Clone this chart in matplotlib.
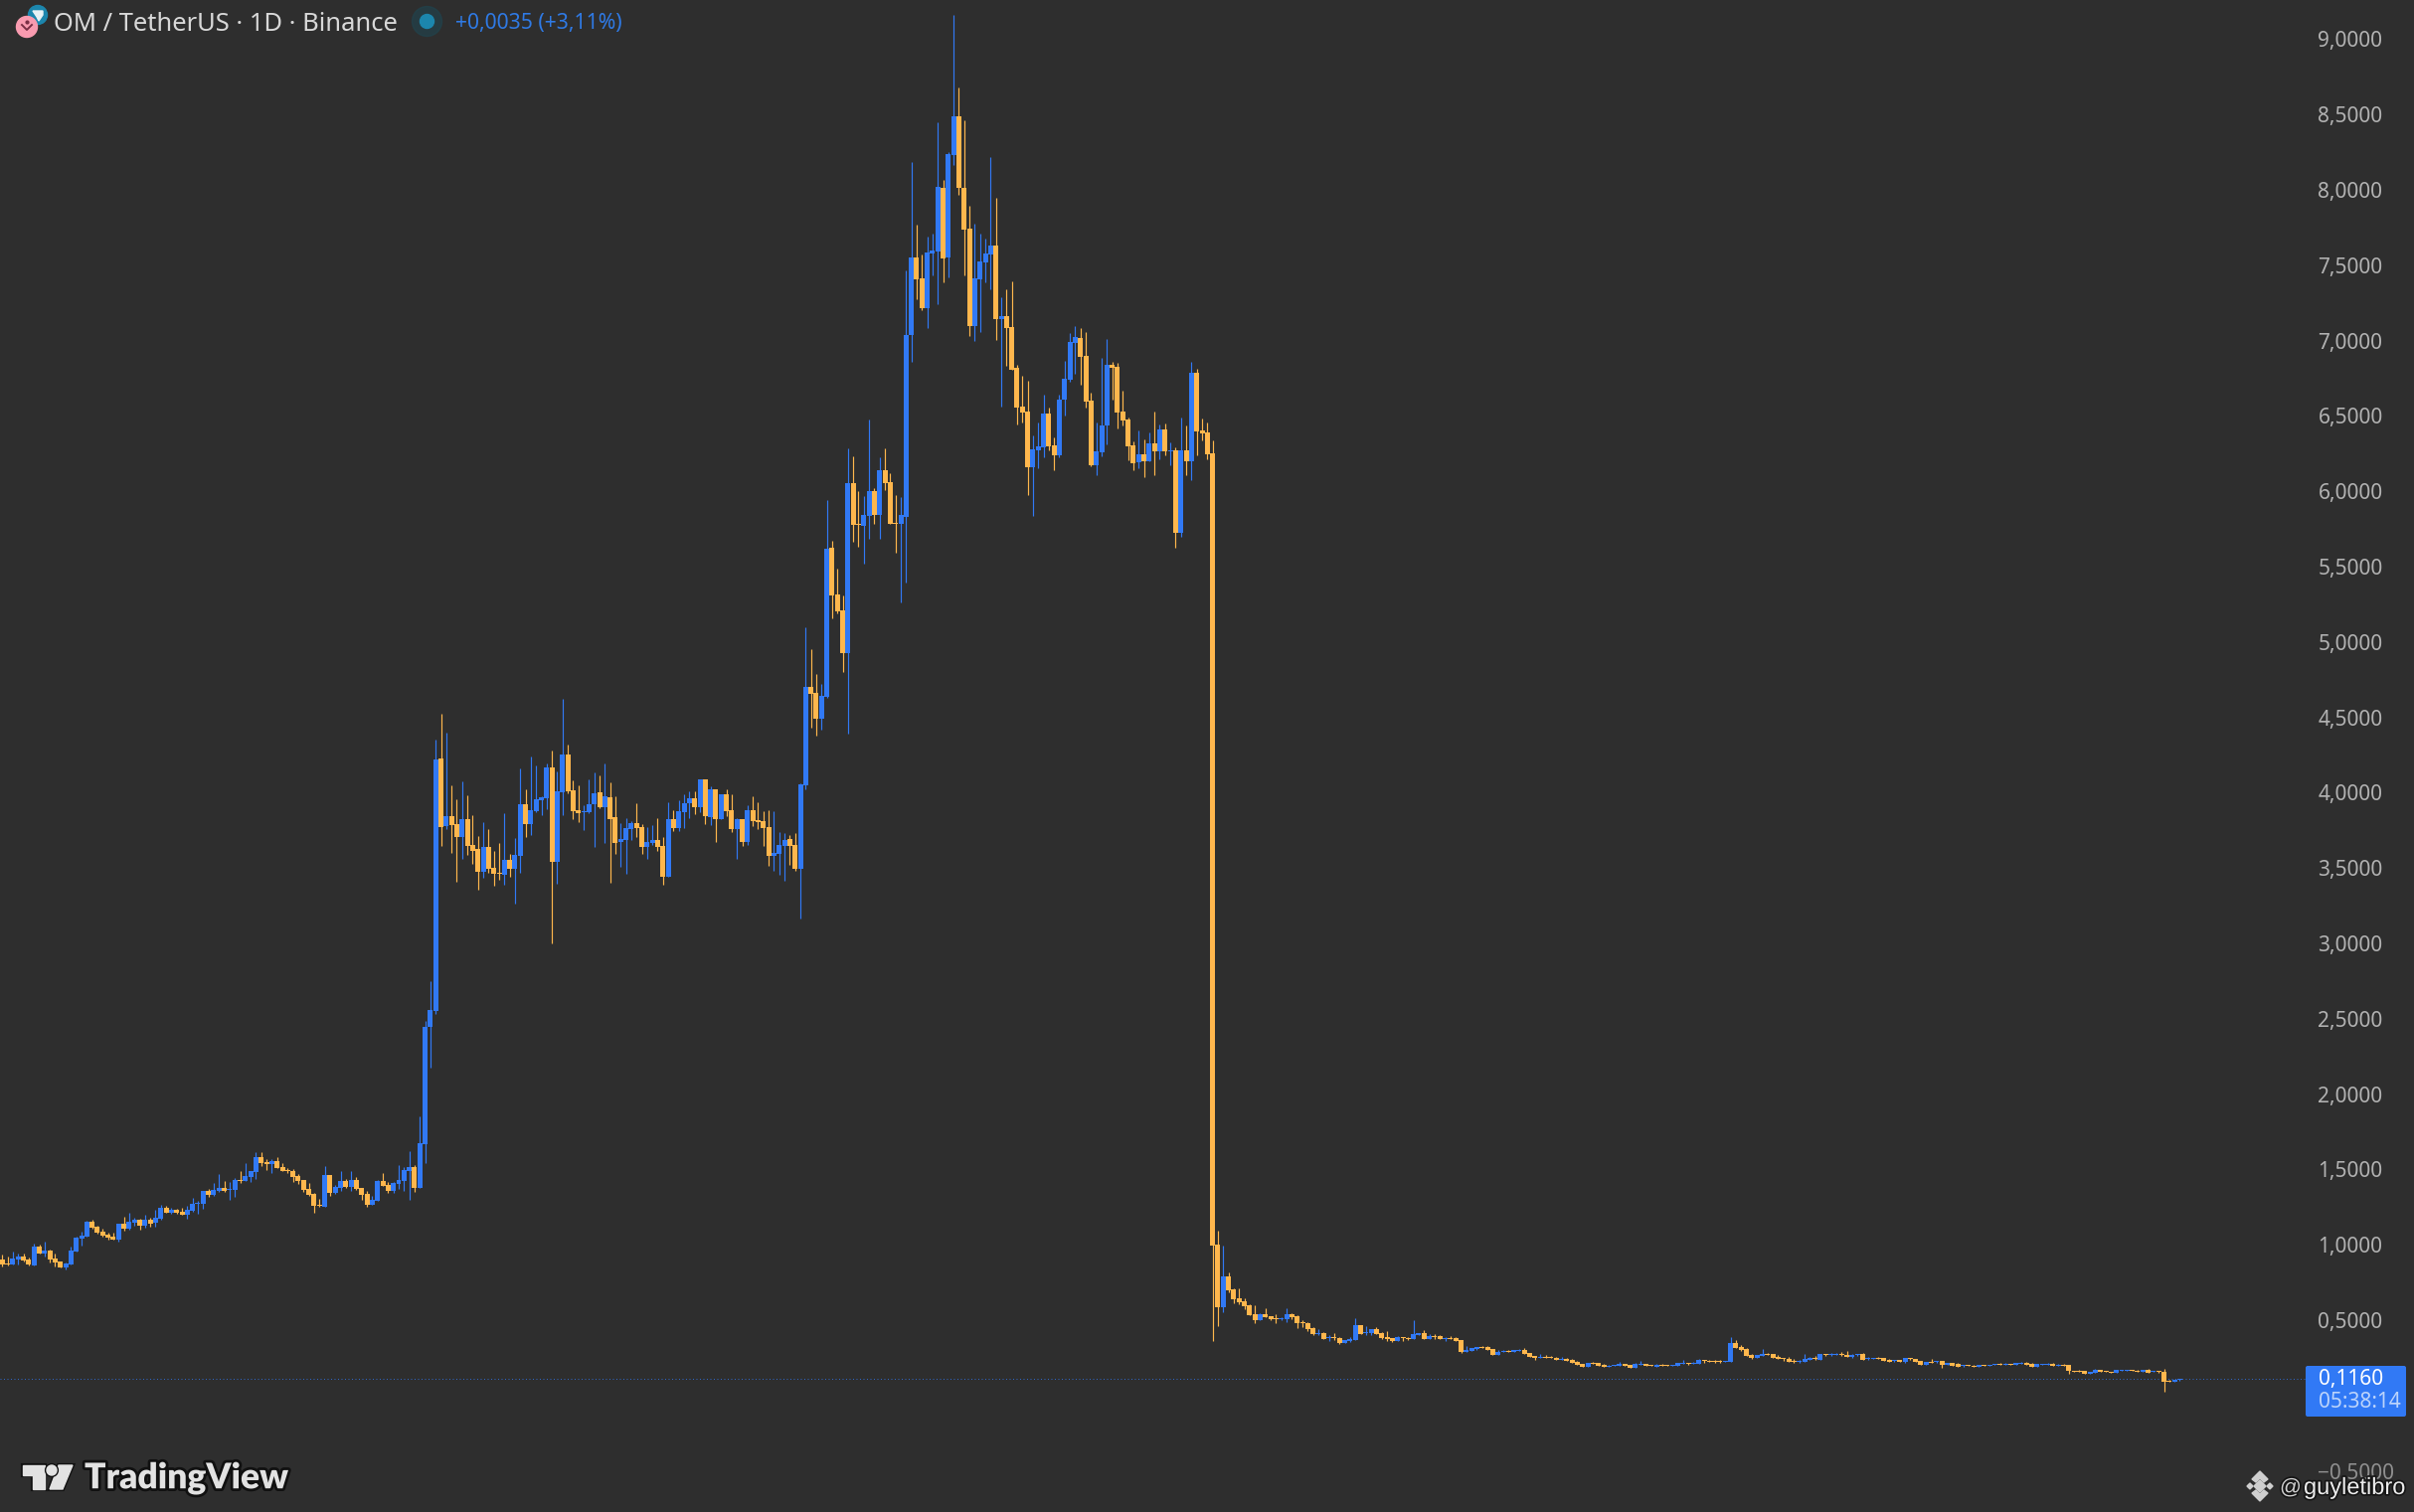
import matplotlib
matplotlib.use('Agg')
import matplotlib.pyplot as plt
import matplotlib.patheffects as pe
from matplotlib.patches import Circle, Polygon, FancyBboxPatch
from matplotlib.transforms import ScaledTranslation
import numpy as np

# Candle data, 10 candles per row; u = up, d = down
direction_rows = [
    "dduuddudud", "dduuuuuddd", "dduduududu", "ududduuuud", "uuduuduuud",
    "dudddddddd", "duduududdd", "uudduuuudu", "uuududdudd", "duddduduud",
    "uuuuduuddd", "uuududduuu", "dduuddudu" "u", "ududududdu", "dudddduuud",
    "duudduuddd", "udduududdd", "uuudduuudu", "uddduuuudu", "ddddduuudd",
    "uuuuddduuu", "dddddududu", "dudududddd", "duddddddud", "dduudddddu",
    "dudduuuduu", "ddddudduud", "uddudddu" "uu", "ddduuduudd", "dudddudddd",
    "uddduuuddu", "uddudduuud", "uuddddu" "udd", "dduudddddd", "uuududuudd",
    "uuduuddd" "ud", "udddududud", "dudduduudu", "duudduuudu", "ddddduuddd",
    "uuudduducd".replace("c", "d"), "duu",
]
directions = "".join(direction_rows)

body_tops = [
    .910, .883, .916, .930, .930, .910, .996, .996, .969, .969,
    .916, .897, .883, .969, 1.055, 1.068, 1.160, 1.160, 1.127, 1.095,
    1.075, 1.062, 1.147, 1.147, 1.160, 1.174, 1.174, 1.174, 1.174, 1.187,
    1.253, 1.253, 1.240, 1.240, 1.227, 1.240, 1.279, 1.286, 1.365, 1.365,
    1.372, 1.385, 1.385, 1.378, 1.438, 1.438, 1.464, 1.497, 1.590, 1.590,
    1.556, 1.563, 1.563, 1.524, 1.504, 1.497, 1.464, 1.438, 1.378, 1.345,
    1.273, 1.471, 1.471, 1.392, 1.431, 1.431, 1.438, 1.438, 1.385, 1.345,
    1.306, 1.431, 1.431, 1.405, 1.418, 1.438, 1.504, 1.524, 1.524, 1.682,
    2.452, 2.564, 4.228, 4.234, 3.851, 3.851, 3.799, 3.832, 3.832, 3.660,
    3.634, 3.647, 3.647, 3.508, 3.475, 3.561, 3.561, 3.594, 3.931, 3.931,
    3.891, 3.964, 3.977, 4.175, 4.175, 4.016, 4.261, 4.261, 4.023, 3.891,
    3.884, 3.931, 4.003, 4.010, 3.983, 3.977, 3.845, 3.700, 3.772, 3.805,
    3.805, 3.779, 3.680, 3.693, 3.693, 3.653, 3.832, 3.832, 3.884, 3.937,
    3.970, 3.970, 4.096, 4.096, 4.030, 4.030, 3.997, 3.997, 3.891, 3.832,
    3.832, 3.891, 3.891, 3.825, 3.818, 3.779, 3.607, 3.660, 3.693, 3.700,
    3.660, 4.063, 4.708, 4.708, 4.669, 4.649, 5.626, 5.632, 5.322, 5.217,
    6.061, 6.061, 5.791, 5.850, 6.009, 6.009, 6.147, 6.147, 6.068, 5.797,
    5.850, 7.044, 7.560, 7.560, 7.421, 7.593, 7.605, 8.029, 8.022, 8.245,
    8.495, 8.495, 8.022, 7.751, 7.421, 7.534, 7.586, 7.638, 7.638, 7.171,
    7.171, 7.098, 6.827, 6.570, 6.537, 6.285, 6.306, 6.523, 6.523, 6.314,
    6.615, 6.754, 6.999, 7.032, 7.025, 6.907, 6.610, 6.274, 6.446, 6.846,
    6.846, 6.834, 6.537, 6.483, 6.314, 6.252, 6.252, 6.325, 6.325, 6.417,
    6.417, 6.281, 6.281, 6.281, 6.281, 6.794, 6.794, 6.412, 6.398, 6.259,
    1.009, .798, .798, .712, .652, .633, .606, .547, .547, .547,
    .534, .520, .520, .547, .547, .534, .494, .487, .454, .421,
    .421, .395, .395, .388, .375, .382, .474, .474, .428, .448,
    .448, .421, .395, .388, .395, .395, .388, .415, .421, .421,
    .402, .402, .402, .388, .388, .388, .375, .309, .322, .329,
    .329, .329, .316, .296, .303, .303, .309, .309, .309, .289,
    .270, .263, .263, .263, .256, .250, .250, .243, .230, .217,
    .223, .223, .223, .210, .204, .210, .217, .217, .210, .217,
    .217, .217, .210, .210, .210, .210, .210, .223, .223, .223,
    .223, .243, .243, .237, .237, .237, .237, .356, .356, .330,
    .317, .277, .277, .284, .284, .284, .264, .257, .250, .237,
    .237, .250, .257, .257, .284, .284, .284, .284, .284, .277,
    .277, .284, .284, .257, .257, .257, .257, .244, .244, .244,
    .257, .257, .250, .237, .231, .231, .237, .237, .224, .224,
    .218, .211, .211, .204, .211, .211, .211, .218, .218, .218,
    .218, .224, .224, .224, .218, .218, .218, .218, .218, .211,
    .211, .211, .171, .171, .171, .165, .178, .178, .171, .165,
    .178, .178, .178, .178, .171, .178, .178, .171, .171, .165,
    .105, .112, .118,
]

body_bottoms = [
    .877, .877, .877, .910, .903, .877, .870, .949, .949, .910,
    .890, .857, .857, .877, .963, 1.048, 1.062, 1.121, 1.088, 1.068,
    1.055, 1.042, 1.042, 1.114, 1.114, 1.154, 1.134, 1.134, 1.147, 1.154,
    1.180, 1.220, 1.220, 1.220, 1.207, 1.207, 1.233, 1.279, 1.279, 1.339,
    1.339, 1.365, 1.365, 1.372, 1.372, 1.431, 1.431, 1.458, 1.490, 1.550,
    1.543, 1.543, 1.517, 1.497, 1.497, 1.458, 1.431, 1.372, 1.339, 1.266,
    1.266, 1.260, 1.352, 1.352, 1.385, 1.392, 1.392, 1.378, 1.339, 1.273,
    1.273, 1.299, 1.398, 1.365, 1.365, 1.411, 1.431, 1.497, 1.385, 1.385,
    1.673, 2.452, 2.558, 3.779, 3.785, 3.792, 3.713, 3.713, 3.653, 3.620,
    3.482, 3.482, 3.502, 3.469, 3.469, 3.462, 3.502, 3.502, 3.587, 3.799,
    3.799, 3.884, 3.957, 3.970, 3.548, 3.548, 4.010, 4.016, 3.884, 3.871,
    3.878, 3.878, 3.931, 3.911, 3.911, 3.832, 3.673, 3.680, 3.693, 3.766,
    3.772, 3.647, 3.647, 3.673, 3.647, 3.449, 3.449, 3.772, 3.772, 3.878,
    3.937, 3.911, 3.911, 3.851, 3.845, 3.832, 3.832, 3.884, 3.766, 3.766,
    3.680, 3.680, 3.818, 3.812, 3.772, 3.587, 3.587, 3.601, 3.653, 3.653,
    3.502, 3.502, 4.056, 4.662, 4.497, 4.497, 4.642, 5.316, 5.210, 4.933,
    4.933, 5.784, 5.784, 5.778, 5.844, 5.850, 5.850, 6.061, 5.791, 5.791,
    5.791, 5.837, 7.042, 7.416, 7.225, 7.225, 7.586, 7.600, 7.553, 7.560,
    8.241, 8.022, 7.744, 7.105, 7.105, 7.414, 7.527, 7.579, 7.150, 7.150,
    7.093, 6.813, 6.563, 6.530, 6.167, 6.167, 6.281, 6.299, 6.306, 6.248,
    6.248, 6.615, 6.747, 6.992, 6.900, 6.603, 6.182, 6.182, 6.266, 6.446,
    6.827, 6.530, 6.479, 6.306, 6.193, 6.200, 6.208, 6.208, 6.274, 6.274,
    6.274, 6.274, 5.732, 5.732, 6.208, 6.208, 6.405, 6.391, 6.252, 1.002,
    .593, .593, .705, .646, .626, .600, .540, .507, .507, .527,
    .514, .514, .514, .514, .527, .487, .487, .448, .415, .415,
    .382, .388, .388, .355, .355, .369, .375, .415, .421, .421,
    .415, .388, .382, .369, .369, .388, .382, .382, .408, .382,
    .382, .395, .382, .384, .382, .369, .296, .296, .303, .316,
    .322, .309, .276, .276, .296, .296, .296, .303, .283, .263,
    .256, .256, .256, .256, .243, .243, .237, .223, .210, .197,
    .197, .217, .204, .197, .197, .204, .204, .204, .190, .190,
    .210, .204, .204, .197, .204, .204, .204, .204, .217, .217,
    .217, .217, .237, .230, .230, .231, .231, .231, .323, .310,
    .270, .257, .257, .270, .277, .257, .250, .250, .231, .231,
    .231, .231, .244, .250, .244, .277, .277, .277, .277, .264,
    .264, .277, .244, .250, .250, .250, .237, .231, .237, .231,
    .231, .250, .231, .211, .211, .224, .231, .211, .211, .204,
    .198, .204, .204, .198, .198, .204, .204, .211, .211, .211,
    .211, .211, .218, .211, .198, .198, .211, .211, .204, .204,
    .204, .171, .165, .165, .151, .151, .158, .165, .165, .158,
    .158, .171, .171, .171, .165, .165, .158, .165, .165, .099,
    .099, .099, .112,
]

wick_highs = [
    .943, .930, .963, .949, .949, .923, 1.015, 1.009, 1.029, .976,
    .949, .897, .890, .996, 1.062, 1.095, 1.167, 1.174, 1.134, 1.114,
    1.088, 1.088, 1.147, 1.194, 1.220, 1.187, 1.180, 1.207, 1.187, 1.240,
    1.273, 1.266, 1.253, 1.246, 1.253, 1.266, 1.319, 1.299, 1.365, 1.378,
    1.418, 1.477, 1.431, 1.425, 1.451, 1.497, 1.550, 1.497, 1.623, 1.623,
    1.576, 1.576, 1.590, 1.550, 1.517, 1.510, 1.477, 1.438, 1.418, 1.352,
    1.312, 1.530, 1.471, 1.405, 1.497, 1.444, 1.497, 1.458, 1.385, 1.365,
    1.332, 1.438, 1.484, 1.425, 1.425, 1.537, 1.524, 1.629, 1.537, 1.860,
    2.492, 2.756, 4.360, 4.531, 4.406, 4.056, 3.964, 4.082, 3.990, 3.858,
    3.719, 3.812, 3.766, 3.620, 3.673, 3.871, 3.601, 3.706, 4.168, 4.030,
    4.247, 4.188, 3.983, 4.201, 4.287, 4.148, 4.630, 4.327, 4.089, 4.056,
    3.924, 4.096, 4.142, 4.122, 4.201, 4.076, 3.983, 3.805, 3.838, 3.818,
    3.937, 3.799, 3.779, 3.792, 3.838, 3.713, 3.944, 3.891, 3.957, 3.997,
    4.016, 4.016, 4.096, 4.096, 4.049, 4.030, 3.997, 4.030, 3.997, 3.838,
    3.832, 3.924, 3.983, 3.944, 3.884, 3.891, 3.884, 3.746, 3.739, 3.726,
    3.739, 4.069, 5.104, 4.959, 4.794, 4.728, 5.949, 5.679, 5.494, 5.316,
    6.292, 6.240, 6.009, 5.976, 6.484, 6.028, 6.233, 6.292, 6.127, 5.982,
    5.969, 7.473, 8.194, 7.777, 7.579, 7.699, 7.718, 8.455, 8.074, 8.260,
    9.169, 8.688, 8.469, 7.902, 7.784, 7.718, 7.685, 8.227, 7.956, 7.296,
    7.348, 7.402, 6.846, 6.775, 6.742, 6.380, 6.464, 6.648, 6.563, 6.365,
    6.648, 6.874, 7.058, 7.105, 7.091, 7.065, 6.662, 6.464, 6.893, 7.018,
    6.867, 6.860, 6.676, 6.497, 6.339, 6.412, 6.351, 6.398, 6.537, 6.450,
    6.457, 6.332, 6.299, 6.497, 6.446, 6.867, 6.820, 6.490, 6.464, 6.346,
    1.101, 1.002, .824, .718, .718, .652, .613, .606, .553, .586,
    .534, .547, .527, .586, .553, .540, .507, .494, .461, .448,
    .428, .408, .421, .395, .375, .395, .520, .474, .468, .448,
    .461, .428, .435, .388, .402, .395, .395, .507, .421, .441,
    .415, .415, .408, .395, .402, .395, .375, .336, .322, .329,
    .336, .336, .316, .309, .309, .309, .309, .316, .322, .289,
    .270, .283, .276, .270, .263, .263, .256, .250, .237, .217,
    .223, .230, .223, .217, .210, .210, .230, .217, .210, .223,
    .237, .217, .210, .217, .217, .210, .210, .223, .243, .223,
    .230, .250, .243, .243, .243, .244, .237, .396, .376, .343,
    .323, .284, .277, .316, .290, .284, .277, .257, .264, .250,
    .244, .284, .264, .270, .284, .284, .290, .290, .297, .303,
    .284, .284, .290, .264, .257, .264, .257, .250, .244, .244,
    .257, .257, .250, .237, .231, .250, .237, .237, .224, .224,
    .224, .211, .211, .211, .211, .211, .211, .218, .224, .224,
    .218, .224, .231, .231, .224, .218, .218, .224, .224, .218,
    .218, .211, .171, .178, .171, .165, .184, .178, .171, .165,
    .178, .178, .178, .178, .178, .178, .184, .171, .171, .184,
    .112, .112, .118,
]

wick_lows = [
    .864, .870, .877, .877, .897, .870, .870, .949, .930, .890,
    .864, .857, .844, .877, .963, 1.002, 1.062, 1.114, 1.081, 1.062,
    1.042, 1.042, 1.029, 1.101, 1.108, 1.134, 1.108, 1.121, 1.127, 1.127,
    1.174, 1.220, 1.213, 1.213, 1.207, 1.180, 1.227, 1.213, 1.246, 1.326,
    1.332, 1.358, 1.358, 1.306, 1.326, 1.418, 1.431, 1.425, 1.444, 1.530,
    1.504, 1.484, 1.517, 1.497, 1.484, 1.425, 1.411, 1.358, 1.332, 1.220,
    1.260, 1.260, 1.332, 1.345, 1.365, 1.385, 1.365, 1.372, 1.306, 1.260,
    1.273, 1.299, 1.398, 1.352, 1.352, 1.378, 1.365, 1.306, 1.358, 1.385,
    1.548, 2.182, 2.538, 3.653, 3.766, 3.607, 3.416, 3.568, 3.594, 3.535,
    3.363, 3.442, 3.475, 3.389, 3.429, 3.396, 3.449, 3.271, 3.475, 3.713,
    3.726, 3.878, 3.858, 3.898, 3.007, 3.403, 3.858, 4.003, 3.832, 3.812,
    3.759, 3.871, 3.647, 3.904, 3.673, 3.409, 3.601, 3.515, 3.469, 3.693,
    3.713, 3.601, 3.568, 3.660, 3.620, 3.396, 3.449, 3.752, 3.752, 3.772,
    3.838, 3.865, 3.878, 3.799, 3.792, 3.680, 3.832, 3.851, 3.746, 3.568,
    3.653, 3.660, 3.785, 3.766, 3.653, 3.521, 3.488, 3.462, 3.422, 3.528,
    3.488, 3.172, 4.030, 4.438, 4.385, 4.425, 4.636, 5.164, 5.197, 4.807,
    4.398, 5.672, 5.639, 5.527, 5.692, 5.791, 5.692, 6.015, 5.791, 5.599,
    5.269, 5.401, 6.870, 7.284, 7.211, 7.093, 7.440, 7.251, 7.395, 7.428,
    8.172, 7.975, 7.440, 7.039, 7.006, 7.065, 7.395, 7.348, 7.011, 6.570,
    6.841, 6.813, 6.450, 6.464, 5.984, 5.845, 6.160, 6.233, 6.281, 6.149,
    6.233, 6.512, 6.735, 6.787, 6.714, 6.563, 6.175, 6.116, 6.241, 6.318,
    6.615, 6.424, 6.446, 6.215, 6.149, 6.160, 6.101, 6.208, 6.116, 6.219,
    6.248, 6.182, 5.633, 5.706, 6.116, 6.083, 6.248, 6.346, 6.219, .369,
    .468, .560, .692, .619, .613, .580, .540, .487, .507, .527,
    .507, .487, .507, .494, .514, .454, .461, .435, .408, .408,
    .382, .369, .375, .349, .355, .362, .375, .415, .408, .408,
    .415, .382, .369, .362, .369, .369, .375, .382, .408, .382,
    .382, .382, .382, .369, .382, .369, .289, .296, .303, .309,
    .322, .309, .276, .276, .296, .296, .296, .303, .283, .263,
    .243, .256, .256, .256, .243, .243, .237, .223, .210, .197,
    .197, .217, .204, .197, .197, .204, .204, .204, .190, .190,
    .210, .204, .204, .197, .204, .204, .204, .204, .217, .210,
    .217, .217, .223, .230, .223, .224, .231, .231, .323, .303,
    .270, .250, .257, .270, .277, .257, .250, .237, .231, .224,
    .224, .231, .244, .244, .244, .270, .270, .277, .270, .264,
    .257, .270, .244, .244, .250, .250, .237, .231, .231, .231,
    .224, .244, .231, .211, .211, .224, .224, .191, .211, .204,
    .198, .198, .204, .198, .198, .204, .204, .211, .211, .211,
    .211, .211, .218, .211, .198, .198, .211, .211, .204, .204,
    .204, .151, .165, .165, .151, .151, .158, .165, .165, .158,
    .158, .171, .171, .171, .165, .165, .158, .165, .158, .033,
    .099, .099, .105,
]

price_ticks = [-0.5, 0.5, 1, 1.5, 2, 2.5, 3, 3.5, 4, 4.5, 5, 5.5, 6, 6.5, 7, 7.5, 8, 8.5, 9]
price_labels = ['\u22120,5000', '0,5000', '1,0000', '1,5000', '2,0000', '2,5000', '3,0000',
                '3,5000', '4,0000', '4,5000', '5,0000', '5,5000', '6,0000', '6,5000',
                '7,0000', '7,5000', '8,0000', '8,5000', '9,0000']
last_price = 0.116

BG = '#2e2e2e'
UP = '#3179f5'
DOWN = '#ffb74d'

fig = plt.figure(figsize=(24.28, 15.21), dpi=100, facecolor=BG)
ax = fig.add_axes([0, 0, 2330 / 2428, 1], facecolor=BG)

x = np.arange(1, len(body_tops) + 1)
tops = np.array(body_tops)
bottoms = np.array(body_bottoms)
colors = [UP if d == 'u' else DOWN for d in directions]

# Wicks first, bodies on top
ax.vlines(x, wick_lows, wick_highs, colors=colors, linewidth=0.85, zorder=2)
ax.bar(x, tops - bottoms, bottom=bottoms, width=0.94, color=colors, linewidth=0, zorder=3)

ax.axhline(last_price, color=UP, linewidth=0.7, linestyle=(0, (1, 2.6)), alpha=0.8, zorder=1)

ax.set_xlim(0.567, 438.87)
ax.set_ylim(-0.765, 9.268)
ax.set_xticks([])
ax.yaxis.tick_right()
ax.set_yticks(price_ticks)
ax.set_yticklabels(price_labels, fontsize=15, color='#b2b2b2', family='Noto Sans', va='center')
ax.tick_params(axis='y', length=0, pad=1)
ax.get_yticklabels()[0].set_color('#8f8f8f')
# nudge the labels down a little
nudge = ScaledTranslation(0, -1.2 / 100, fig.dpi_scale_trans)
for label in ax.get_yticklabels():
    label.set_transform(label.get_transform() + nudge)
for spine in ax.spines.values():
    spine.set_visible(False)

# Overlay in pixel coordinates for header, price tag and watermarks
ov = fig.add_axes([0, 0, 1, 1])
ov.set_xlim(0, 2428)
ov.set_ylim(1521, 0)
ov.axis('off')
ov.patch.set_alpha(0)

# Header
ov.add_patch(Circle((38, 15), 9.5, color='#1c86ad'))
ov.add_patch(Polygon([(33, 11), (43, 11), (43, 15), (39, 21), (37, 17)], color='#e8f2f5'))
ov.add_patch(Circle((27, 27), 10.5, color='#f99bb0', zorder=3))
ov.plot([22, 27, 32], [25, 30, 25], color='#7a2f45', linewidth=1.4, zorder=4)
ov.plot([27], [21.5], marker='o', markersize=2, color='#7a2f45', zorder=4)
ov.text(54, 24.5, 'OM / TetherUS \u00b7 1D \u00b7 Binance', fontsize=18.4, color='#d8d8d8',
        family='Noto Sans', va='center', ha='left')
ov.add_patch(Circle((429.5, 21.5), 15, color='#1f4550', alpha=0.6))
ov.add_patch(Circle((429.5, 21.5), 7, color='#1c86ad'))
ov.text(458, 24, '+0,0035 (+3,11%)', fontsize=15.2, color='#2f7ae5',
        family='Noto Sans', va='center', ha='left')

# Last price tag
ov.add_patch(FancyBboxPatch((2319, 1374), 101, 51, boxstyle='round,pad=0,rounding_size=2',
                            facecolor='#3179f5', edgecolor='none'))
ov.text(2332, 1387.5, '0,1160', fontsize=15, color='white', family='Noto Sans',
        weight='bold', va='center', ha='left')
ov.text(2332, 1411, '05:38:14', fontsize=15, color='#bcd4fb', family='Noto Sans',
        va='center', ha='left')

# TradingView logo
logo = '#e2e2e2'
p1 = Polygon([(23, 1474), (45, 1474), (45, 1498), (33, 1498), (33, 1484), (23, 1484)], color=logo)
p2 = Polygon([(59, 1474), (73, 1474), (63, 1498), (50, 1498)], color=logo)
p3 = Circle((52, 1479), 5, color=logo)
for p in [p1, p2, p3]:
    p.set_path_effects([pe.withStroke(linewidth=3, foreground='#111111')])
    ov.add_patch(p)
ov.text(85, 1487, 'TradingView', fontsize=25.5, color=logo, family='Lato', weight=800,
        va='center', ha='left', path_effects=[pe.withStroke(linewidth=4, foreground='#111111')])

# Author watermark
shadow = [pe.withStroke(linewidth=2.5, foreground='#161616')]
bx, by = 2273, 1495
diamond = [(0, -6), (6, 0), (0, 6), (-6, 0)]
for dx, dy, s in [(0, 0, 1), (-10, 0, 0.5), (10, 0, 0.5)]:
    pts = [(bx + dx + s * a, by + dy + s * b) for a, b in diamond]
    ov.add_patch(Polygon(pts, color='#cfcfcf'))
for sign in [-1, 1]:
    pts = [(bx - 8, by + sign * 7), (bx, by + sign * 15), (bx + 8, by + sign * 7),
           (bx + 4, by + sign * 4), (bx, by + sign * 8), (bx - 4, by + sign * 4)]
    ov.add_patch(Polygon(pts, color='#cfcfcf'))
ov.text(2293, 1497, '@', fontsize=15.5, color='#d0d0d0', family='Liberation Sans',
        va='center', ha='left', path_effects=shadow)
ov.text(2317, 1497, 'guyletibro', fontsize=17, color='#ececec', family='Liberation Sans',
        va='center', ha='left', path_effects=shadow)

fig.savefig('out.png', dpi=100, facecolor=BG)
